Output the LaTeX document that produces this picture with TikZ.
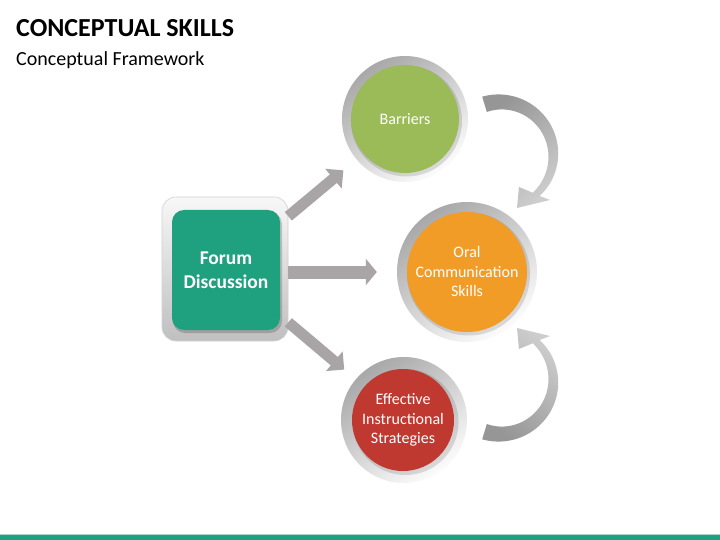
\documentclass[tikz,border=0pt]{standalone}
\usepackage{fontspec}
\setmainfont{Carlito}
\usetikzlibrary{arrows.meta,calc}
\definecolor{tealc}{RGB}{31,160,127}
\definecolor{barlight}{RGB}{170,215,200}
\definecolor{greenc}{RGB}{155,187,89}
\definecolor{orangec}{RGB}{242,156,40}
\definecolor{redc}{RGB}{191,57,48}
\definecolor{arrowgray}{RGB}{169,165,166}
\definecolor{ringdark}{RGB}{168,168,168}
\definecolor{ringlight}{RGB}{252,252,252}
\definecolor{curvedark}{RGB}{150,150,150}
\definecolor{curvelight}{RGB}{205,205,205}
\tikzset{
  ringnode/.style={circle, inner sep=0pt, top color=ringdark, bottom color=ringlight, shading angle=35},
  discnode/.style={circle, inner sep=0pt, text=white, align=center, font=\fontsize{16}{19.5}\selectfont},
  straightarrow/.style={draw=arrowgray, line width=11pt, -{Triangle[width=25pt,length=13pt]}},
  curvearrow/.style={top color=curvedark, bottom color=curvelight, shading angle=40}
}
\begin{document}
\begin{tikzpicture}[x=1pt,y=-1pt]
\useasboundingbox (0,0) rectangle (720,540);
\fill[white] (0,0) rectangle (720,540);

% titles
\node[anchor=base west, inner sep=0pt, font=\bfseries\fontsize{26}{30}\selectfont] (title) at (16,37) {CONCEPTUAL SKILLS};
\node[anchor=base west, inner sep=0pt, font=\fontsize{20}{24}\selectfont] (subtitle) at (16,66) {Conceptual Framework};

% bottom bar
\fill[barlight] (0,533.5) rectangle (720,535);
\fill[tealc] (0,535) rectangle (720,540);

% forum box
\node[rounded corners=14pt, minimum width=126pt, minimum height=144pt, top color=gray!6, bottom color=gray!50, draw=gray!35, line width=0.6pt] (forumframe) at (225,269) {};
\fill[black, opacity=0.18, rounded corners=12pt] (173,212) rectangle (282,333);
\node[rounded corners=12pt, fill=tealc, minimum width=108pt, minimum height=120pt, inner sep=0pt, text=white, align=center, font=\bfseries\fontsize{19.5}{24}\selectfont] (forum) at (226,270) {Forum\\Discussion};

% circles
\node[ringnode, minimum size=126pt] (barriersring) at (405,119) {};
\fill[black, opacity=0.12] (406.5,121) circle (55.5);
\node[discnode, fill=greenc, minimum size=108pt] (barriers) at (405,119) {Barriers};

\node[ringnode, minimum size=140pt] (oralring) at (467,272) {};
\fill[black, opacity=0.12] (468.5,274) circle (61.5);
\node[discnode, fill=orangec, minimum size=120pt] (oral) at (467,272) {Oral\\Communication\\Skills};

\node[ringnode, minimum size=126pt] (effring) at (404,420) {};
\fill[black, opacity=0.12] (405.5,422) circle (53);
\node[discnode, fill=redc, minimum size=102pt] (eff) at (403,420) {Effective\\Instructional\\Strategies};

% straight arrows
\draw[straightarrow, shorten >=17pt] (forumframe) -- (barriersring);
\draw[straightarrow, line width=13pt, -{Triangle[width=26pt,length=11pt]}, shorten >=20pt] (forumframe.east |- oral) -- (oralring.west);
\draw[straightarrow, shorten >=15pt] (forumframe) -- (effring);

% curved arrows
\begin{scope}[shift={(500,155)}]
\shade[curvearrow] plot[domain=-107:46, samples=50] ({(61-4*(\x+107)/153)*cos(\x)}, {(61-4*(\x+107)/153)*sin(\x)})
  -- (50,45) -- (17,53) -- (19,32)
  -- plot[domain=49:-107, samples=50] ({(45+5*(\x+107)/156)*cos(\x)}, {(45+5*(\x+107)/156)*sin(\x)}) -- cycle;
\end{scope}
\begin{scope}[shift={(500,381)}, yscale=-1]
\shade[top color=curvelight, bottom color=curvedark, shading angle=-40] plot[domain=-107:46, samples=50] ({(61-4*(\x+107)/153)*cos(\x)}, {(61-4*(\x+107)/153)*sin(\x)})
  -- (50,45) -- (17,53) -- (19,32)
  -- plot[domain=49:-107, samples=50] ({(45+5*(\x+107)/156)*cos(\x)}, {(45+5*(\x+107)/156)*sin(\x)}) -- cycle;
\end{scope}
\end{tikzpicture}
\end{document}
